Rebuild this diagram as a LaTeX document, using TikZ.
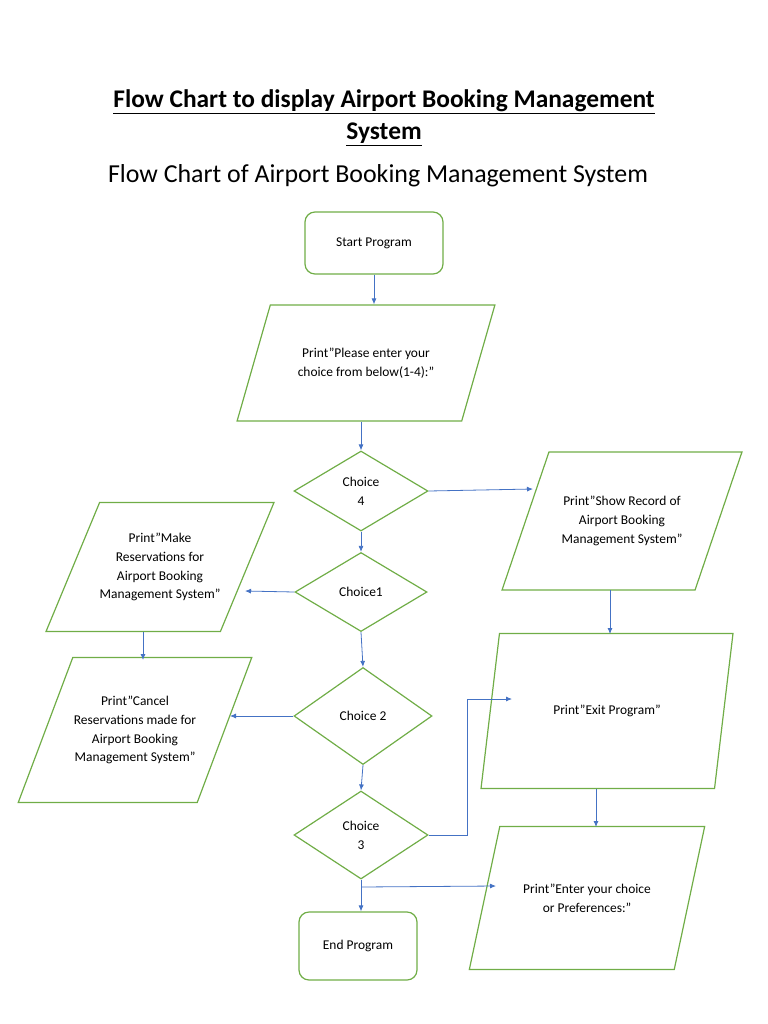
\documentclass[tikz,border=0pt]{standalone}
\usepackage{fontspec}
\setmainfont{Carlito}
\usetikzlibrary{shapes.geometric,arrows.meta}
\definecolor{shapegreen}{HTML}{70AD47}
\definecolor{flowblue}{HTML}{4472C4}
\tikzset{
  box/.style={draw=shapegreen, line width=1.2bp, rounded corners=10bp, minimum width=#1, align=center, font=\fontsize{13.5}{19}\selectfont},
  para/.style={draw=shapegreen, line width=1.2bp, trapezium, trapezium left angle=52, trapezium right angle=128, trapezium stretches=true, align=center, inner sep=0pt, font=\fontsize{13.5}{19}\selectfont},
  choice/.style={draw=shapegreen, line width=1.2bp, diamond, aspect=1.6, inner sep=0pt, align=center, font=\fontsize{13.5}{19}\selectfont},
  flow/.style={-{Latex[length=6bp,width=5bp]}, draw=flowblue, line width=0.8bp}
}
\begin{document}
\begin{tikzpicture}[x=1bp,y=-1bp]
\useasboundingbox (0,0) rectangle (768,1024);
% titles
\node (t1) at (384,102) {\fontsize{25.5}{30}\selectfont\bfseries\underline{Flow Chart to display Airport Booking Management}};
\node (t2) at (384,134) {\fontsize{25.5}{30}\selectfont\bfseries\underline{System}};
\node (t3) at (378,176) {\fontsize{26}{30}\selectfont Flow Chart of Airport Booking Management System};
% nodes
\node[box=138bp, minimum height=62bp] (start) at (374,243) {Start Program};
\node[para, minimum width=258bp, minimum height=116bp] (prompt) at (366,363) {Print''Please enter your\\choice from below(1-4):''};
\node[choice, minimum width=134bp, minimum height=80bp] (c4) at (361,491) {Choice\\4};
\node[para, minimum width=240bp, minimum height=138bp] (show) at (622,521) {Print''Show Record of\\Airport Booking\\Management System''};
\node[choice, minimum width=132bp, minimum height=79bp] (c1) at (361,592) {Choice1};
\node[para, minimum width=216bp, minimum height=129bp] (make) at (160,567) {Print''Make\\Reservations for\\Airport Booking\\Management System''};
\node[choice, minimum width=138bp, minimum height=97bp] (c2) at (363,716) {Choice 2};
\node[para, minimum width=234bp, minimum height=145bp] (cancel) at (135,730) {Print''Cancel\\Reservations made for\\Airport Booking\\Management System''};
\node[para, minimum width=252bp, minimum height=155bp] (exit) at (607,711) {Print''Exit Program''};
\node[choice, minimum width=134bp, minimum height=88bp] (c3) at (361,835) {Choice\\3};
\node[para, minimum width=236bp, minimum height=143bp] (enter) at (587,898) {Print''Enter your choice\\or Preferences:''};
\node[box=118bp, minimum height=68bp] (end) at (358,946) {End Program};
% connectors
\draw[flow] (start.south) -- (start.south |- prompt.north);
\draw[flow] (c4.north |- prompt.south) -- (c4.north);
\draw[flow] (c4.east) -- (533,489) coordinate (showin);
\draw[flow] (c4.south) -- (c1.north);
\draw[flow] (c1.west) -- (245,591) coordinate (makein);
\draw[flow] (143,632) coordinate (makeout) -- (143,660);
\draw[flow] (c1.south) -- (c2.north);
\draw[flow] (c2.west) -- (230,716) coordinate (cancelin);
\draw[flow] (c2.south) -- (c3.north);
\draw[flow] (c3.east) -- (467,835) -- (467,699) -- (512,699) coordinate (exitin);
\draw[flow] (610,590) coordinate (showout) -- (610,634);
\draw[flow] (596,789) coordinate (exitout) -- (596,827);
\draw[flow] (c3.south) -- (end.north -| c3.south);
\coordinate (split) at (361,887);
\draw[flow] (split) -- (496,886) coordinate (enterin);
\end{tikzpicture}
\end{document}
